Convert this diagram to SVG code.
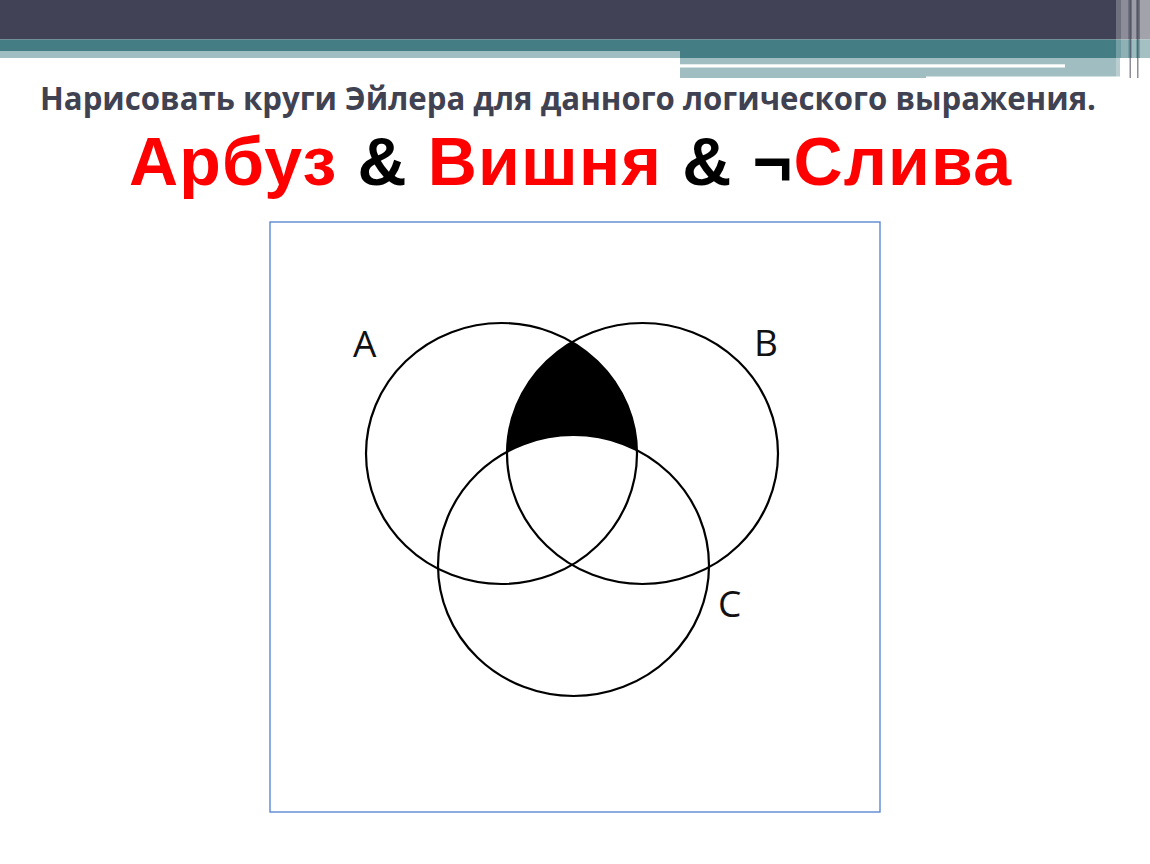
<svg xmlns="http://www.w3.org/2000/svg" width="1150" height="864" viewBox="0 0 1150 864">
<style>
.title{font-family:"Open Sans","Liberation Sans",sans-serif;font-weight:bold;font-size:32px;fill:#404252}
.expr{font-family:"Liberation Sans",Arial,sans-serif;font-weight:bold;font-size:68px}
.red{fill:#ff0000}
.blk{fill:#000000}
.lbl{font-family:"Open Sans","Liberation Sans",sans-serif;font-size:37px;fill:#111111}
.ring{fill:none;stroke:#000;stroke-width:2.2}
</style>
<defs>
<clipPath id="clipB"><ellipse cx="642.5" cy="453.5" rx="135.5" ry="130.5"/></clipPath>
</defs>
<rect width="1150" height="864" fill="#ffffff"/>
<g id="header">
<rect x="0" y="0" width="1150" height="39.5" fill="#414255"/>
<rect x="0" y="39.5" width="1150" height="18.5" fill="#447e84"/>
<rect x="0" y="51" width="680" height="7" fill="#a0bec1"/>
<rect x="680" y="58" width="440" height="20" fill="#a0bec1"/>
<rect x="680" y="64.3" width="385" height="3.2" fill="#ffffff"/>
<rect x="926" y="76.5" width="194" height="4" fill="#ffffff"/>
<rect x="1116" y="0" width="34" height="78" fill="#ffffff" opacity="0.25"/>
<rect x="1121" y="0" width="7" height="78" fill="#ffffff" opacity="0.2"/>
<rect x="1129.5" y="0" width="1.5" height="78" fill="#414255" opacity="0.6"/>
<rect x="1132" y="0" width="4" height="78" fill="#ffffff" opacity="0.3"/>
<rect x="1137" y="0" width="1.5" height="78" fill="#414255" opacity="0.6"/>
<rect x="1140" y="0" width="10" height="78" fill="#ffffff" opacity="0.35"/>
</g>
<g id="title">
<text class="title" x="40" y="110" textLength="1056" lengthAdjust="spacingAndGlyphs">Нарисовать круги Эйлера для данного логического выражения.</text>
</g>
<g id="expression">
<text class="expr" x="129" y="185" textLength="882" lengthAdjust="spacing"><tspan class="red">Арбуз</tspan><tspan class="blk"> &amp; </tspan><tspan class="red">Вишня</tspan><tspan class="blk"> &amp; ¬</tspan><tspan class="red">Слива</tspan></text>
</g>
<g id="frame">
<rect x="270" y="222" width="610" height="590" fill="#ffffff" stroke="#4f7fcf" stroke-width="1.3"/>
</g>
<g id="shaded">
<ellipse cx="501.5" cy="453.5" rx="135.5" ry="130.5" fill="#000" clip-path="url(#clipB)"/>
<ellipse cx="573.5" cy="565.5" rx="135.5" ry="130.5" fill="#ffffff"/>
</g>
<g id="circleA">
<ellipse class="ring" cx="501.5" cy="453.5" rx="135.5" ry="130.5"/>
<text class="lbl" x="353" y="357">A</text>
</g>
<g id="circleB">
<ellipse class="ring" cx="642.5" cy="453.5" rx="135.5" ry="130.5"/>
<text class="lbl" x="754" y="356">B</text>
</g>
<g id="circleC">
<ellipse class="ring" cx="573.5" cy="565.5" rx="135.5" ry="130.5"/>
<text class="lbl" x="718" y="617">C</text>
</g>
</svg>
